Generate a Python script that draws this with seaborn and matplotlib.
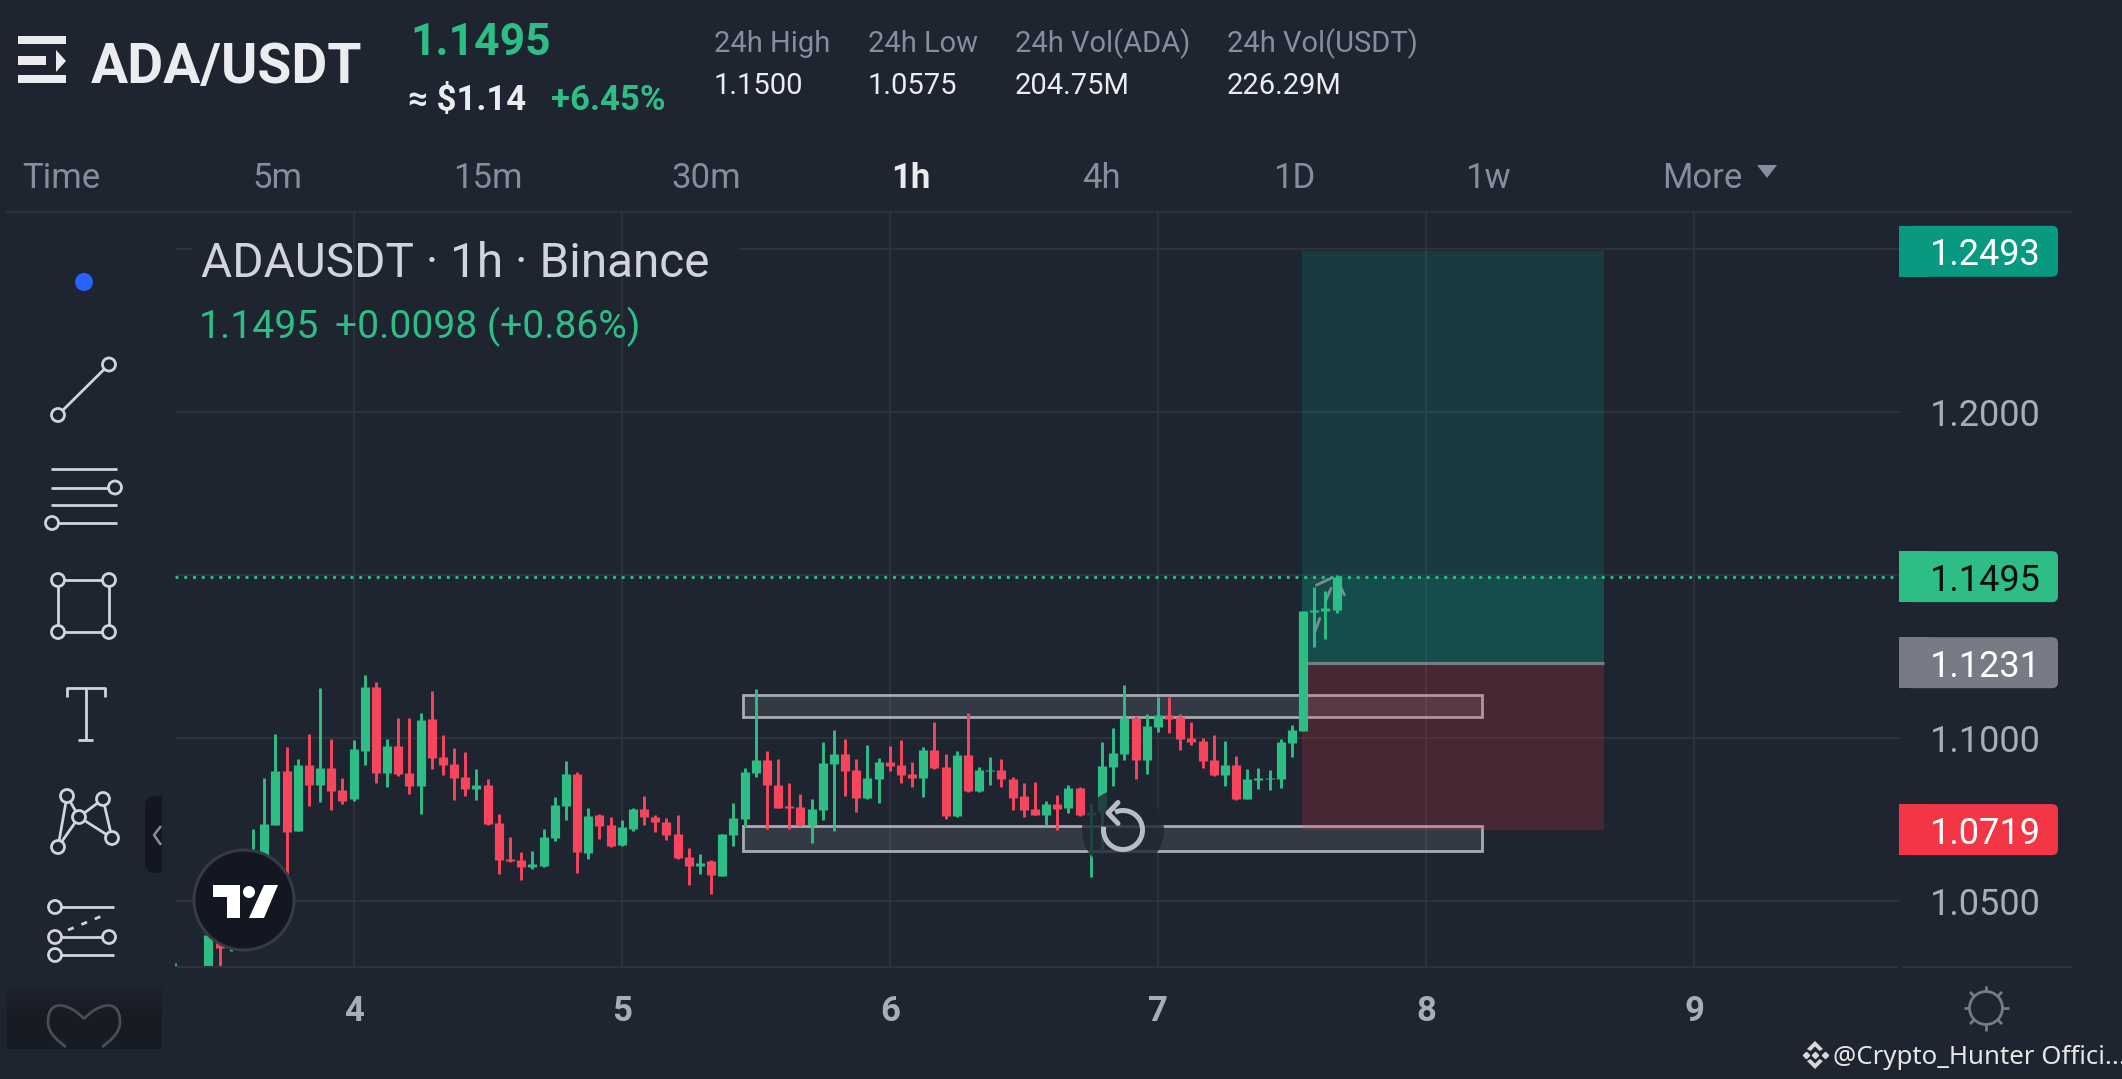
import pandas as pd
import seaborn as sns
import matplotlib.pyplot as plt
from matplotlib.patches import Circle, FancyBboxPatch, PathPatch, Polygon, Rectangle
from matplotlib.path import Path

# hourly candles, hour 0 is the tick of day 4
candle_hours = [-16] + list(range(-13, 89))
opens = [
    1.0237, 1.0237, 1.0385, 1.0358, 1.0401, 1.0524, 1.0641, 1.0733, 1.0899, 1.0716,
    1.0917, 1.0856, 1.0907, 1.0840, 1.0812, 1.0961, 1.1155, 1.0892, 1.0975, 1.0892,
    1.0853, 1.1058, 1.0941, 1.0919, 1.0879, 1.0845, 1.0856, 1.0738, 1.0628, 1.0626,
    1.0603, 1.0607, 1.0692, 1.0792, 1.0890, 1.0648, 1.0764, 1.0732, 1.0671, 1.0721,
    1.0782, 1.0759, 1.0741, 1.0704, 1.0634, 1.0608, 1.0623, 1.0577, 1.0702, 1.0752,
    1.0894, 1.0933, 1.0856, 1.0790, 1.0787, 1.0732, 1.0779, 1.0920, 1.0950, 1.0902,
    1.0815, 1.0874, 1.0926, 1.0917, 1.0890, 1.0878, 1.0963, 1.0910, 1.0761, 1.0948,
    1.0837, 1.0898, 1.0902, 1.0874, 1.0822, 1.0782, 1.0765, 1.0798, 1.0784, 1.0848,
    1.0765, 1.0774, 1.0912, 1.0951, 1.1062, 1.0933, 1.1033, 1.1070, 1.1063, 1.1000,
    1.0991, 1.0933, 1.0887, 1.0917, 1.0813, 1.0872, 1.0873, 1.0874, 1.0986, 1.1022,
    1.1388, 1.1390, 1.1393,
]
highs = [
    1.0311, 1.0406, 1.0421, 1.0654, 1.0585, 1.0720, 1.0876, 1.1011, 1.0971, 1.0935,
    1.1011, 1.1152, 1.0996, 1.0876, 1.0994, 1.1193, 1.1171, 1.0996, 1.1060, 1.1060,
    1.1078, 1.1144, 1.1008, 1.0968, 1.0956, 1.0904, 1.0873, 1.0766, 1.0695, 1.0649,
    1.0653, 1.0720, 1.0820, 1.0929, 1.0895, 1.0786, 1.0767, 1.0759, 1.0748, 1.0786,
    1.0822, 1.0764, 1.0754, 1.0764, 1.0662, 1.0643, 1.0626, 1.0706, 1.0800, 1.0907,
    1.1149, 1.0960, 1.0936, 1.0861, 1.0828, 1.0812, 1.0988, 1.1025, 1.0996, 1.0935,
    1.0978, 1.0938, 1.0975, 1.0994, 1.0925, 1.0973, 1.1048, 1.0950, 1.0961, 1.1076,
    1.0912, 1.0943, 1.0935, 1.0879, 1.0861, 1.0864, 1.0808, 1.0824, 1.0855, 1.0851,
    1.0798, 1.0988, 1.1030, 1.1163, 1.1067, 1.1073, 1.1127, 1.1127, 1.1074, 1.1049,
    1.1001, 1.1008, 1.0991, 1.0944, 1.0904, 1.0907, 1.0902, 1.0996, 1.1040, 1.1391,
    1.1462, 1.1451, 1.1500,
]
lows = [
    1.0220, 1.0227, 1.0278, 1.0348, 1.0391, 1.0508, 1.0621, 1.0732, 1.0564, 1.0715,
    1.0791, 1.0803, 1.0779, 1.0798, 1.0808, 1.0917, 1.0861, 1.0849, 1.0884, 1.0828,
    1.0766, 1.0904, 1.0887, 1.0810, 1.0822, 1.0810, 1.0733, 1.0582, 1.0620, 1.0564,
    1.0598, 1.0603, 1.0684, 1.0748, 1.0585, 1.0628, 1.0690, 1.0667, 1.0669, 1.0716,
    1.0733, 1.0713, 1.0687, 1.0629, 1.0549, 1.0583, 1.0520, 1.0577, 1.0669, 1.0728,
    1.0881, 1.0722, 1.0785, 1.0722, 1.0730, 1.0677, 1.0748, 1.0716, 1.0822, 1.0773,
    1.0814, 1.0800, 1.0899, 1.0863, 1.0849, 1.0818, 1.0905, 1.0752, 1.0759, 1.0835,
    1.0835, 1.0856, 1.0851, 1.0779, 1.0757, 1.0764, 1.0732, 1.0718, 1.0769, 1.0762,
    1.0573, 1.0646, 1.0854, 1.0933, 1.0874, 1.0890, 1.1018, 1.1016, 1.0963, 1.0979,
    1.0909, 1.0883, 1.0853, 1.0810, 1.0812, 1.0844, 1.0841, 1.0847, 1.0941, 1.1022,
    1.1278, 1.1304, 1.1384,
]
closes = [
    1.0278, 1.0396, 1.0355, 1.0442, 1.0524, 1.0646, 1.0736, 1.0899, 1.0713, 1.0917,
    1.0856, 1.0907, 1.0838, 1.0808, 1.0965, 1.1155, 1.0892, 1.0975, 1.0889, 1.0853,
    1.1055, 1.0940, 1.0917, 1.0878, 1.0845, 1.0855, 1.0735, 1.0626, 1.0622, 1.0605,
    1.0612, 1.0695, 1.0793, 1.0889, 1.0650, 1.0761, 1.0731, 1.0669, 1.0726, 1.0782,
    1.0759, 1.0743, 1.0702, 1.0631, 1.0607, 1.0618, 1.0580, 1.0706, 1.0754, 1.0895,
    1.0933, 1.0856, 1.0786, 1.0786, 1.0732, 1.0781, 1.0922, 1.0950, 1.0899, 1.0816,
    1.0877, 1.0926, 1.0914, 1.0888, 1.0878, 1.0963, 1.0907, 1.0761, 1.0948, 1.0837,
    1.0902, 1.0902, 1.0873, 1.0817, 1.0779, 1.0764, 1.0798, 1.0783, 1.0847, 1.0764,
    1.0774, 1.0914, 1.0953, 1.1060, 1.0933, 1.1037, 1.1070, 1.1059, 1.0997, 1.0988,
    1.0930, 1.0885, 1.0916, 1.0812, 1.0873, 1.0876, 1.0877, 1.0988, 1.1025, 1.1390,
    1.1393, 1.1399, 1.1495,
]

day_ticks = [0, 24, 48, 72, 96, 120]
day_labels = ["4", "5", "6", "7", "8", "9"]
price_ticks = [1.05, 1.10, 1.15, 1.20]
price_labels = ["1.0500", "1.1000", "", "1.2000"]

last_price = 1.1495
take_profit = 1.2493
entry_price = 1.1231
stop_loss = 1.0719
position_hours = [84.9, 111.9]
box_hours = [34.9, 101.0]
upper_box = [1.1064, 1.1132]
lower_box = [1.0653, 1.0730]
# faint hand drawn arrow on top of the breakout
arrow_hours = [[86.1, 86.5], [87.0, 87.5], [86.2, 87.5], [88.2, 88.7]]
arrow_prices = [[1.1329, 1.1367], [1.1418, 1.1459], [1.1469, 1.1490], [1.1475, 1.1439]]

BG = "#1e2430"
GRID = "#2c313c"
UP = "#2ebd85"
DOWN = "#f6465d"
ICON = "#d1d4dc"
MUTED = "#848e9c"

sns.set_theme(style="dark", rc={
    "figure.facecolor": BG,
    "axes.facecolor": BG,
    "savefig.facecolor": BG,
    "axes.grid": True,
    "grid.color": GRID,
    "grid.linewidth": 1.5,
})
plt.rcParams["font.family"] = ["Roboto", "DejaVu Sans"]

fig = plt.figure(figsize=(21.22, 10.79), dpi=100)
ax = fig.add_axes([175 / 2122, (1079 - 967) / 1079, 1724 / 2122, 755 / 1079])

candles = pd.DataFrame({"hour": candle_hours, "open": opens, "high": highs, "low": lows, "close": closes})
candles["up"] = candles["close"] >= candles["open"]
wicks = candles.melt(id_vars=["hour", "up"], value_vars=["high", "low"], value_name="price")
bodies = candles.melt(id_vars=["hour", "up"], value_vars=["open", "close"], value_name="price")

# boxes and position tool go under the candles
for band in (upper_box, lower_box):
    ax.add_patch(Rectangle((box_hours[0], band[0]), box_hours[1] - box_hours[0], band[1] - band[0],
                           fc=(1, 1, 1, 0.1), ec="#a8abb3", lw=2, zorder=2))
pos_width = position_hours[1] - position_hours[0]
ax.add_patch(Rectangle((position_hours[0], entry_price), pos_width, take_profit - entry_price,
                       fc="#089981", alpha=0.2, lw=0, zorder=3))
ax.add_patch(Rectangle((position_hours[0], entry_price), pos_width, last_price - entry_price,
                       fc="#089981", alpha=0.2, lw=0, zorder=3))
ax.add_patch(Rectangle((position_hours[0], stop_loss), pos_width, entry_price - stop_loss,
                       fc="#f23645", alpha=0.2, lw=0, zorder=3))
ax.plot(position_hours, [entry_price, entry_price], color="#787b86", lw=2.2, zorder=3, solid_capstyle="butt")

for xs, ys in zip(arrow_hours, arrow_prices):
    ax.plot(xs, ys, color="#7d8a90", lw=2, zorder=3.5)

palette = {True: UP, False: DOWN}
sns.lineplot(data=wicks, x="hour", y="price", hue="up", units="hour", estimator=None, palette=palette,
             legend=False, lw=2.1, solid_capstyle="butt", zorder=4, ax=ax)
sns.lineplot(data=bodies, x="hour", y="price", hue="up", units="hour", estimator=None, palette=palette,
             legend=False, lw=6.6, solid_capstyle="butt", zorder=4, ax=ax)

ax.axhline(last_price, color=UP, lw=2.1, ls=(0, (1, 2)), zorder=5)
ax.hlines(1.25, -16, -14.5, color=GRID, lw=1.5, zorder=1)
ax.hlines(1.25, 34.5, 139, color=GRID, lw=1.5, zorder=1)

ax.set_xlim(-15.99, 138.35)
ax.set_ylim(1.02975, 1.26135)
ax.set_xticks(day_ticks, day_labels, fontsize=25, fontweight="bold", color="#a9adb6")
ax.yaxis.tick_right()
ax.set_yticks(price_ticks, price_labels, fontsize=26, color="#a9adb6")
ax.tick_params(axis="x", length=0, pad=20)
ax.tick_params(axis="y", length=0, pad=22)
ax.set_xlabel("")
ax.set_ylabel("")
ax.grid(True, color=GRID, lw=1.5)
ax.set_axisbelow(True)
sns.despine(ax=ax, left=True, bottom=True, top=True, right=True)

# everything around the chart lives on a full figure axes in image pixels
ui = fig.add_axes([0, 0, 1, 1], zorder=10)
ui.set_xlim(0, 2122)
ui.set_ylim(1079, 0)
ui.axis("off")
ui.patch.set_alpha(0)


def price_px(price):
    return 1079 - ax.transData.transform((0, price))[1]


def seg(xs, ys, color=ICON, lw=2.0, **kw):
    ui.plot(xs, ys, color=color, lw=lw, solid_capstyle=kw.pop("cap", "butt"), **kw)


def node(x, y, r=6.5, color=ICON, lw=2.0):
    ui.add_patch(Circle((x, y), r, fc=BG, ec=color, lw=lw, zorder=6))


# frame lines
seg([6, 2072], [212, 212], color=GRID, lw=1.5)
seg([175, 1898], [967, 967], color=GRID, lw=1.5)
seg([1902, 2072], [967, 967], color=GRID, lw=1.5)

# header
for y0, y1, x1 in [(36, 44, 66), (56, 65, 46), (75, 83, 66)]:
    ui.add_patch(Rectangle((18, y0), x1 - 18, y1 - y0, fc="#eaecef", lw=0))
ui.add_patch(Polygon([(56, 50), (66, 61), (56, 72)], fc="#eaecef", lw=0))
ui.text(91, 83, "ADA/USDT", fontsize=39.8, fontweight="bold", color="#eaecef")
ui.text(410, 55, "1.1495", fontsize=32, fontweight="bold", color=UP)
ui.text(408, 110, "≈ $1.14", fontsize=25, fontweight="bold", color="#eaecef")
ui.text(551, 110, "+6.45%", fontsize=25, fontweight="bold", color=UP)

stat_x = [714, 868, 1015, 1227]
stat_names = ["24h High", "24h Low", "24h Vol(ADA)", "24h Vol(USDT)"]
stat_values = ["1.1500", "1.0575", "204.75M", "226.29M"]
for x, name, value in zip(stat_x, stat_names, stat_values):
    ui.text(x, 52, name, fontsize=21, color=MUTED)
    ui.text(x, 94, value, fontsize=21, color="#eaecef")

ui.text(22, 188, "Time", fontsize=25, color=MUTED)
tf_x = [277, 488, 706, 911, 1101, 1294, 1488, 1702]
tf_names = ["5m", "15m", "30m", "1h", "4h", "1D", "1w", "More"]
for x, name in zip(tf_x, tf_names):
    active = name == "1h"
    ui.text(x, 188, name, fontsize=25, ha="center", color="#eaecef" if active else MUTED,
            fontweight="bold" if active else "normal")
ui.add_patch(Polygon([(1757, 165), (1777, 165), (1767, 178)], fc=MUTED, lw=0))

# chart legend
ui.text(201, 277, "ADAUSDT · 1h · Binance", fontsize=34.4, color="#d1d4dc")
ui.text(199, 338, "1.1495", fontsize=28.2, color=UP)
ui.text(335, 338, "+0.0098 (+0.86%)", fontsize=28.1, color=UP)

# price tags
tag_prices = [take_profit, last_price, entry_price, stop_loss]
tag_colors = ["#089981", "#2ebd85", "#787b86", "#f23645"]
tag_text = ["#ffffff", "#0b0e11", "#ffffff", "#ffffff"]
for price, color, text_color in zip(tag_prices, tag_colors, tag_text):
    cy = price_px(price)
    ui.add_patch(FancyBboxPatch((1905, cy - 25.5), 153, 51, boxstyle="round,pad=0,rounding_size=6",
                                fc=color, lw=0, zorder=3))
    ui.add_patch(Rectangle((1899, cy - 25.5), 30, 51, fc=color, lw=0, zorder=3))
    ui.text(1930, cy, f"{price:.4f}", fontsize=26, color=text_color, va="center_baseline", zorder=4)

# left toolbar
ui.add_patch(Circle((84, 282), 9, fc="#2962ff", lw=0))

seg([58, 109], [415, 364.5])
node(58, 415)
node(109, 364.5)

for y in (469, 487.5, 505, 523):
    seg([51, 117], [y, y])
node(115, 487.5)
node(52, 523)

seg([58, 109, 109, 58, 58], [580, 580, 632, 632, 580])
for x, y in [(58, 580), (109, 580), (58, 632), (109, 632)]:
    node(x, y)

seg([66.5, 66.5, 104.5, 104.5], [697, 688, 688, 697])
seg([85.7, 85.7], [688, 740])
seg([78, 93], [740, 740])

net = {"a": (67, 796), "b": (103, 799), "c": (79, 817), "d": (112, 838), "e": (58, 847)}
for p, q in ["ea", "ac", "cb", "bd", "cd", "ce"]:
    seg([net[p][0], net[q][0]], [net[p][1], net[q][1]])
for x, y in net.values():
    node(x, y)

for y, x1 in [(907, 114), (937, 109), (955, 114)]:
    seg([55, x1], [y, y])
    node(55, y)
node(109, 937)
seg([68, 108], [930, 913.5], ls=(0, (2.2, 3)))

# heart tile fades out at the bottom of the toolbar
tile_rows = 16
for i in range(tile_rows):
    mix = min(1.0, (i + 1) / 8)
    ui.add_patch(Rectangle((7, 985 + i * 4), 155, 4.2, fc="#171b24", alpha=mix, lw=0))
heart = Path([(84, 1019), (72, 1005), (48, 996), (48, 1022), (48, 1033), (58, 1041), (66, 1047),
              (102, 1047), (110, 1041), (120, 1033), (120, 1022), (120, 996), (96, 1005), (84, 1019)],
             [Path.MOVETO, Path.CURVE4, Path.CURVE4, Path.CURVE4, Path.CURVE4, Path.CURVE4, Path.CURVE4,
              Path.MOVETO, Path.CURVE4, Path.CURVE4, Path.CURVE4, Path.CURVE4, Path.CURVE4, Path.CURVE4])
ui.add_patch(PathPatch(heart, fc="none", ec="#4a4d56", lw=2))

# collapse handle, only its left side shows
ui.add_patch(FancyBboxPatch((145, 796), 30, 77, boxstyle="round,pad=0,rounding_size=10", fc="#131722", lw=0))
ui.add_patch(Rectangle((162, 790), 12.5, 90, fc=BG, lw=0, zorder=2))
seg([161, 154, 161], [826, 835, 845], color="#8b8e97", lw=1.8)

# tradingview badge
ui.add_patch(Circle((244, 900), 50, fc="#131722", ec="#363a45", lw=2.2))
ui.add_patch(Polygon([(213, 885), (240, 885), (240, 918), (227, 918), (227, 897), (213, 897)], fc="white", lw=0))
ui.add_patch(Circle((249, 892), 6, fc="white", lw=0))
ui.add_patch(Polygon([(264, 885), (278, 885), (264, 918), (249, 918)], fc="white", lw=0))

# reset button dims what is under it
ui.add_patch(Circle((1123, 830), 41, fc=BG, alpha=0.8, lw=0))
reset = Path.arc(-114, 190)
ui.add_patch(PathPatch(Path(reset.vertices * 19.5 + [1123, 830], reset.codes), fc="none", ec="#b9bcc4", lw=3.6))
seg([1118, 1108, 1118], [802.5, 813, 823.5], color="#b9bcc4", lw=3.6, cap="round")

# settings sun
ui.add_patch(Circle((1986, 1008), 16.5, fc="none", ec="#787b86", lw=2))
for x0, y0, x1, y1 in [(1986, 986, 1986, 991), (1986, 1025, 1986, 1031), (1964, 1008, 1969, 1008),
                       (2003, 1008, 2009, 1008), (1970, 992, 1974, 996), (1998, 996, 2002, 992),
                       (1970, 1024, 1974, 1020), (1998, 1020, 2002, 1024)]:
    seg([x0, x1], [y0, y1], color="#787b86", lw=2)

# watermark
for x, y in [(1806, 1055), (1815, 1055), (1825, 1055)]:
    ui.plot([x], [y], marker="D", ms=3.2, color="#d8d8d8", lw=0)
ui.add_patch(Polygon([(1815, 1041), (1823, 1049), (1819.5, 1051), (1815, 1046.5), (1810.5, 1051), (1807, 1049)], fc="#d8d8d8", lw=0))
ui.add_patch(Polygon([(1815, 1069), (1823, 1061), (1819.5, 1059), (1815, 1063.5), (1810.5, 1059), (1807, 1061)], fc="#d8d8d8", lw=0))
ui.text(1833, 1064, "@Crypto_Hunter Offici...", fontsize=18.6, color="#e6e6e6", family=["Noto Sans", "DejaVu Sans"])

fig.savefig("out.png", dpi=100)
